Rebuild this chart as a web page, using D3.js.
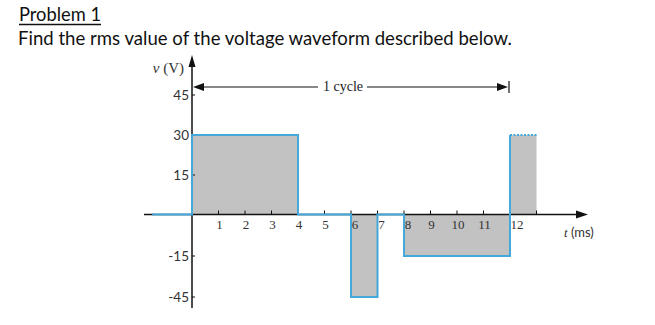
<!DOCTYPE html>
<html><head><meta charset="utf-8">
<script src="https://cdn.jsdelivr.net/npm/d3@7"></script>
<style>body{margin:0;background:#fff}svg{display:block}</style>
</head><body>
<svg id="c" width="655" height="325"></svg>
<script>
// ---- data ----
const segStart = [0, 4, 6, 7, 8, 12];
const segEnd   = [4, 6, 7, 8, 12, 13];
const segValue = [30, 0, -45, 0, -15, 30];
const xTicks = [1,2,3,4,5,6,7,8,9,10,11,12,13];
const xTickLabels = ["1","2","3","4","5","6","7","8","9","10","11","12",""];
const yTicks = [45, 30, 15, -15, -45];
const yTickLabels = ["45","30","15","-15","-45"];
const titleText = "Problem 1";
const subtitleText = "Find the rms value of the voltage waveform described below.";

// ---- drawing ----
const svg = d3.select("#c");
const blue = "#45a8da", gray = "#c2c2c2";
const x = d3.scaleLinear().domain([0, 13]).range([192, 536.5]);
const y = d3.scaleLinear().domain([-45, -15, 0, 15, 30, 45]).range([297, 256, 214.5, 175, 135, 95]);
const x0 = x(0), y0 = y(0);

// titles
svg.append("text").attr("x", 19).attr("y", 21).attr("font-family", "Lato, sans-serif")
  .attr("font-size", 18.5).attr("fill", "#111").attr("textLength", 82).attr("lengthAdjust", "spacingAndGlyphs")
  .text(titleText);
svg.append("line").attr("x1", 19).attr("x2", 101).attr("y1", 24.5).attr("y2", 24.5).attr("stroke", "#111").attr("stroke-width", 1.3);
svg.append("text").attr("x", 18).attr("y", 45).attr("font-family", "Lato, sans-serif")
  .attr("font-size", 19).attr("fill", "#111").attr("textLength", 494).attr("lengthAdjust", "spacingAndGlyphs")
  .text(subtitleText);

// gray bars
const segs = segValue.map((v, i) => ({s: segStart[i], e: segEnd[i], v}));
svg.append("g").selectAll("rect").data(segs.filter(d => d.v !== 0)).join("rect")
  .attr("x", d => x(d.s)).attr("width", d => x(d.e) - x(d.s))
  .attr("y", d => Math.min(y(d.v), y0)).attr("height", d => Math.abs(y(d.v) - y0))
  .attr("fill", gray);

// axes
svg.append("line").attr("x1", 144).attr("x2", 580).attr("y1", y0).attr("y2", y0).attr("stroke", "#111").attr("stroke-width", 1.5);
svg.append("path").attr("d", `M588,${y0} L576,${y0-4} L576,${y0+4} Z`).attr("fill", "#111");
svg.append("line").attr("x1", x0).attr("x2", x0).attr("y1", 308).attr("y2", 64).attr("stroke", "#111").attr("stroke-width", 1.5);
svg.append("path").attr("d", `M${x0},55 L${x0-3.5},67 L${x0+3.5},67 Z`).attr("fill", "#111");

// x ticks
svg.append("g").selectAll("line").data(xTicks).join("line")
  .attr("x1", d => x(d)).attr("x2", d => x(d)).attr("y1", y0).attr("y2", y0 - 4)
  .attr("stroke", "#111").attr("stroke-width", 1);
const labelShift = d => (d === 12 ? 7 : (d >= 6 && d <= 8) ? 4 : 1);
svg.append("g").selectAll("text").data(xTicks).join("text")
  .attr("x", d => x(d) + labelShift(d)).attr("y", 229)
  .attr("text-anchor", "middle").attr("font-family", "'Liberation Serif', serif")
  .attr("font-size", 13).attr("fill", "#333")
  .text((d, i) => xTickLabels[i]);

// y ticks
svg.append("g").selectAll("line").data(yTicks).join("line")
  .attr("x1", x0).attr("x2", x0 + 3).attr("y1", d => y(d)).attr("y2", d => y(d))
  .attr("stroke", "#111").attr("stroke-width", 1);
svg.append("g").selectAll("text").data(yTicks).join("text")
  .attr("x", 189).attr("y", d => y(d)).attr("dy", "0.35em")
  .attr("text-anchor", "end").attr("font-family", "Lato, sans-serif")
  .attr("font-size", 13.5).attr("fill", "#333")
  .text((d, i) => yTickLabels[i]);

// waveform (step path)
const pts = [[-1.5, 0], [0, 0]];
segs.forEach(d => { pts.push([d.s, d.v]); if (d.e < 13) pts.push([d.e, d.v]); });
const line = d3.line().x(d => x(d[0])).y(d => y(d[1]));
svg.append("path").attr("d", line(pts)).attr("fill", "none").attr("stroke", blue).attr("stroke-width", 2);
const last = segs[segs.length - 1];
svg.append("line").attr("x1", x(last.s)).attr("x2", x(last.e)).attr("y1", y(last.v)).attr("y2", y(last.v))
  .attr("stroke", blue).attr("stroke-width", 2).attr("stroke-dasharray", "2,1.5");

// axis titles
const vl = svg.append("text").attr("x", 184).attr("y", 73).attr("text-anchor", "end")
  .attr("font-family", "'Liberation Serif', serif").attr("font-size", 15).attr("fill", "#333");
vl.append("tspan").attr("font-style", "italic").text("v");
vl.append("tspan").text(" (V)");
const tl = svg.append("text").attr("x", 564).attr("y", 237).attr("font-size", 13).attr("fill", "#333");
tl.append("tspan").attr("font-family", "'Liberation Serif', serif").attr("font-style", "italic").text("t");
tl.append("tspan").attr("font-family", "Lato, sans-serif").text(" (ms)");

// 1 cycle annotation
const cy = 87;
svg.append("line").attr("x1", x0 + 8).attr("x2", 318).attr("y1", cy).attr("y2", cy).attr("stroke", "#111").attr("stroke-width", 1.2);
svg.append("path").attr("d", `M${x0+1},${cy} L${x0+12},${cy-4} L${x0+12},${cy+4} Z`).attr("fill", "#111");
svg.append("line").attr("x1", 367).attr("x2", x(12) - 8).attr("y1", cy).attr("y2", cy).attr("stroke", "#111").attr("stroke-width", 1.2);
svg.append("path").attr("d", `M${x(12)-2},${cy} L${x(12)-13},${cy-4} L${x(12)-13},${cy+4} Z`).attr("fill", "#111");
svg.append("line").attr("x1", x(12) - 1).attr("x2", x(12) - 1).attr("y1", cy - 6).attr("y2", cy + 6).attr("stroke", "#111").attr("stroke-width", 1.2);
svg.append("text").attr("x", 343).attr("y", 91).attr("text-anchor", "middle")
  .attr("font-family", "'Liberation Serif', serif").attr("font-size", 14).attr("fill", "#222").text("1 cycle");
</script>
</body></html>
